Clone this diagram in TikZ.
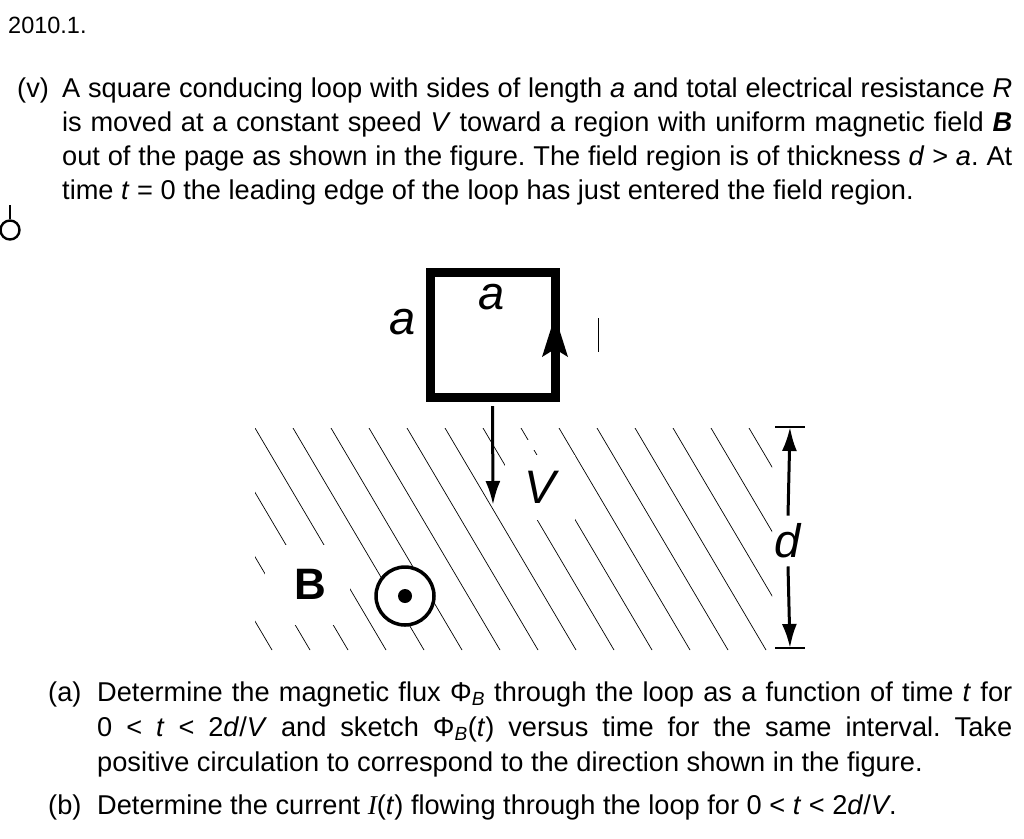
\documentclass[tikz,border=0pt]{standalone}
\usepackage{fontspec}
\usetikzlibrary{arrows.meta}
\setmainfont{Liberation Sans}
\newfontfamily\serifit{Liberation Serif}
\frenchspacing
\begin{document}
\begin{tikzpicture}[x=1pt,y=-1pt,
  txt/.style={anchor=base west,inner sep=0pt,font=\fontsize{27.2}{30}\selectfont},
  lab/.style={inner sep=0pt,font=\fontsize{47}{50}\selectfont\itshape},
  arr/.style={line width=3pt,-{Latex[length=24pt,width=15pt]}},
  hatch/.style={line width=0.7pt}]
\useasboundingbox (0,0) rectangle (1024,838);
\node[anchor=base west,inner sep=0pt,font=\fontsize{23.5}{26}\selectfont] (yr) at (8,33) {2010.1.};
\node[txt] (v) at (17,97) {(v)};
\node[txt] (l1) at (62,97) {\makebox[950pt][s]{A square conducing loop with sides of length \textit{a} and total electrical resistance \textit{R}}};
\node[txt] (l2) at (62,131) {\makebox[950pt][s]{is moved at a constant speed \textit{V} toward a region with uniform magnetic field \textbf{\textit{B}}}};
\node[txt] (l3) at (62,165) {\makebox[950pt][s]{out of the page as shown in the figure. The field region is of thickness \textit{d} > \textit{a}. At}};
\node[txt] (l4) at (62,199) {time \textit{t} = 0 the leading edge of the loop has just entered the field region.};
% small marker
\coordinate (mk) at (10,205);
\node[draw,circle,line width=2.4pt,minimum size=19pt,inner sep=0pt] (ring) at (10,230) {};
\draw[line width=1.2pt] (mk) -- (ring.north);
% hatch
\begin{scope}
\clip (255,428) rectangle (772,650);
\foreach \k in {-4,...,14} {
  \draw[hatch] (255+\k*38,428) -- ++(131,222);
}
\end{scope}
\fill[white] (505,455) rectangle (575,520);
\fill[white] (265,545) rectangle (350,625);
\fill[white] (515,440) -- (560,440) -- (560,450) -- (515,450) -- cycle;
% loop
\node[draw,line width=9pt,minimum width=125pt,minimum height=125pt,inner sep=0pt] (loop) at (492.5,334.5) {};
\coordinate (ar) at (555,322);
\fill (555,316) -- (568,357) -- (555,349) -- (542,357) -- cycle;
\coordinate (tk1) at (598,318);
\coordinate (tk2) at (598,352);
\draw[line width=0.8pt] (tk1) -- (tk2);
\node[lab] (la) at (403,322) {a};
\node[lab] (lb) at (492,297) {a};
% velocity
\coordinate (vb) at (493,505);
\draw[arr] (loop.south) ++(0,4.5) -- (vb);
\node[lab] (lv) at (540,487) {V};
% dimension d
\coordinate (dt) at (790,427);
\coordinate (db) at (790,648);
\draw[line width=1.8pt] (775,427) -- (805,427) (775,648) -- (805,648);
\node[lab] (ld) at (788,541) {d};
\draw[arr] (ld.north) ++(0,-8) -- (dt);
\draw[arr] (ld.south) ++(0,8) -- (db);
% B
\node[inner sep=0pt,font=\fontsize{44}{46}\selectfont\bfseries] (bl) at (310,584) {B};
\node[draw,circle,line width=3.5pt,minimum size=58pt,inner sep=0pt,fill=white] (bc) at (405,596) {};
\fill (bc.center) circle (7pt);
% questions
\node[txt] (qa) at (48,701) {(a)};
\node[txt] (q1) at (97,701) {\makebox[915pt][s]{Determine the magnetic flux Φ\textsubscript{\textit{B}} through the loop as a function of time \textit{t} for}};
\node[txt] (q2) at (97,736) {\makebox[915pt][s]{0 < \textit{t} < 2\textit{d}/\textit{V} and sketch Φ\textsubscript{\textit{B}}(\textit{t}) versus time for the same interval. Take}};
\node[txt] (q3) at (97,771) {positive circulation to correspond to the direction shown in the figure.};
\node[txt] (qb) at (48,814) {(b)};
\node[txt] (q4) at (97,814) {Determine the current {\serifit\itshape I}(\textit{t}) flowing through the loop for 0 < \textit{t} < 2\textit{d}/\textit{V}.};
\end{tikzpicture}
\end{document}
